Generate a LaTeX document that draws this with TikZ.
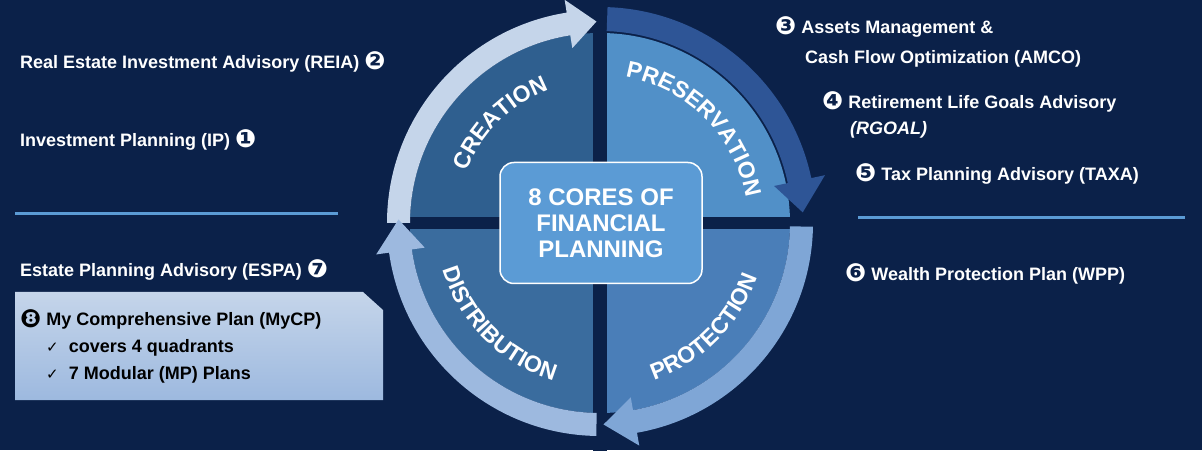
\documentclass[tikz,border=0pt]{standalone}
\usepackage{fontspec}
\setmainfont{Liberation Sans}
\newfontfamily\dingf{DejaVu Sans}
\usetikzlibrary{decorations.text,shadings}
\definecolor{bg}{HTML}{0B2149}
\definecolor{qcre}{HTML}{2F5F8F}
\definecolor{qpre}{HTML}{5190C8}
\definecolor{qpro}{HTML}{4A7EB8}
\definecolor{qdis}{HTML}{3A6C9E}
\definecolor{acre}{HTML}{C5D5EA}
\definecolor{apre}{HTML}{2E5596}
\definecolor{apro}{HTML}{7FA6D6}
\definecolor{adis}{HTML}{9DB9DF}
\definecolor{ctr}{HTML}{5B9BD5}
\definecolor{sep}{HTML}{5B9BD5}
\newcommand{\dg}[1]{{\dingf\fontsize{25}{19}\selectfont\raisebox{-1.5pt}{#1}}}
\tikzset{
 lbl/.style={anchor=west,text=white,font=\fontsize{18}{19}\selectfont\bfseries,inner sep=0},
 arctext/.style={decorate,decoration={text along path,text align=center,text color=white,
   text={|\fontsize{23}{23}\selectfont\bfseries|#1}}},
}
\begin{document}
\begin{tikzpicture}[x=1pt,y=1pt]
\fill[bg] (0,0) rectangle (1202,450);
\useasboundingbox (0,0) rectangle (1202,450);
\begin{scope}[shift={(600,227)}]
 \fill[qcre] (0,0) -- (180:190) arc[start angle=180,end angle=90,radius=190] -- cycle;
 \fill[qpre] (0,0) -- (90:190) arc[start angle=90,end angle=0,radius=190] -- cycle;
 \fill[qpro] (0,0) -- (0:190) arc[start angle=0,end angle=-90,radius=190] -- cycle;
 \fill[qdis] (0,0) -- (-90:190) arc[start angle=-90,end angle=-180,radius=190] -- cycle;
 \fill[bg] (-7,-230) rectangle (7,230);
 \fill[bg] (-230,-6) rectangle (230,6);
 \fill[acre] (180:190) -- (180:213) arc[start angle=180,end angle=99,radius=213] -- (99:226) -- (91:201.5) -- (99:177) -- (99:190) arc[start angle=99,end angle=180,radius=190] -- cycle;
 \fill[apre] (88:192) -- (88:216) arc[start angle=88,end angle=12,radius=216] -- (12:230) -- (3:203) -- (12:178) -- (12:192) arc[start angle=12,end angle=88,radius=192] -- cycle;
 \fill[apro] (-1:190) -- (-1:213) arc[start angle=-1,end angle=-80,radius=213] -- (-80:226) -- (-89:201.5) -- (-80:177) -- (-80:190) arc[start angle=-80,end angle=-1,radius=190] -- cycle;
 \fill[adis] (-91:190) -- (-91:213) arc[start angle=-91,end angle=-172,radius=213] -- (-172:226) -- (-181:201.5) -- (-172:177) -- (-172:190) arc[start angle=-172,end angle=-91,radius=190] -- cycle;
 \path[arctext=CREATION] (172:143) arc[start angle=172,end angle=98,radius=143];
 \path[arctext=PRESERVATION] (90:148) arc[start angle=90,end angle=0,radius=148];
 \path[arctext=PROTECTION] (-88:166) arc[start angle=-88,end angle=-2,radius=166];
 \path[arctext=DISTRIBUTION] (-180:164) arc[start angle=-180,end angle=-90,radius=164];
 \node[draw=white,line width=1.5pt,fill=ctr,rounded corners=14pt,minimum width=202pt,minimum height=121pt,
   text=white,align=center,font=\fontsize{24}{26}\selectfont\bfseries] (core) at (1,0)
   {8 CORES OF\\FINANCIAL\\PLANNING};
\end{scope}
\node[lbl] (reia) at (20,388) {Real Estate Investment Advisory (REIA) \dg{❷}};
\node[lbl] (ip) at (20,310) {Investment Planning (IP) \dg{❶}};
\draw[sep,line width=3pt] (15,236) -- (338,236);
\node[lbl] (espa) at (20,180) {Estate Planning Advisory (ESPA) \dg{❼}};
\shade[top color=acre,bottom color=adis] (15,158) -- (363,158) -- (383,140) -- (383,50) -- (15,50) -- cycle;
\node[anchor=north west,align=left,font=\fontsize{18}{27}\selectfont\bfseries,inner sep=0] (mycp) at (20,141)
 {\dg{❽} My Comprehensive Plan (MyCP)\\
  \hspace*{26pt}{\dingf\mdseries\fontsize{15}{15}\selectfont ✓}\ \ covers 4 quadrants\\
  \hspace*{26pt}{\dingf\mdseries\fontsize{15}{15}\selectfont ✓}\ \ 7 Modular (MP) Plans};
\node[lbl] (amco1) at (775,423) {\dg{❸} Assets Management \&};
\node[lbl] (amco2) at (805,391) {Cash Flow Optimization (AMCO)};
\node[lbl] (rgoal1) at (822,348) {\dg{❹} Retirement Life Goals Advisory};
\node[lbl,font=\fontsize{18}{19}\selectfont\bfseries\itshape] (rgoal2) at (850,320) {(RGOAL)};
\node[lbl] (taxa) at (855,276) {\dg{❺} Tax Planning Advisory (TAXA)};
\draw[sep,line width=3pt] (858,232) -- (1185,232);
\node[lbl] (wpp) at (845,176) {\dg{❻} Wealth Protection Plan (WPP)};
\end{tikzpicture}
\end{document}
